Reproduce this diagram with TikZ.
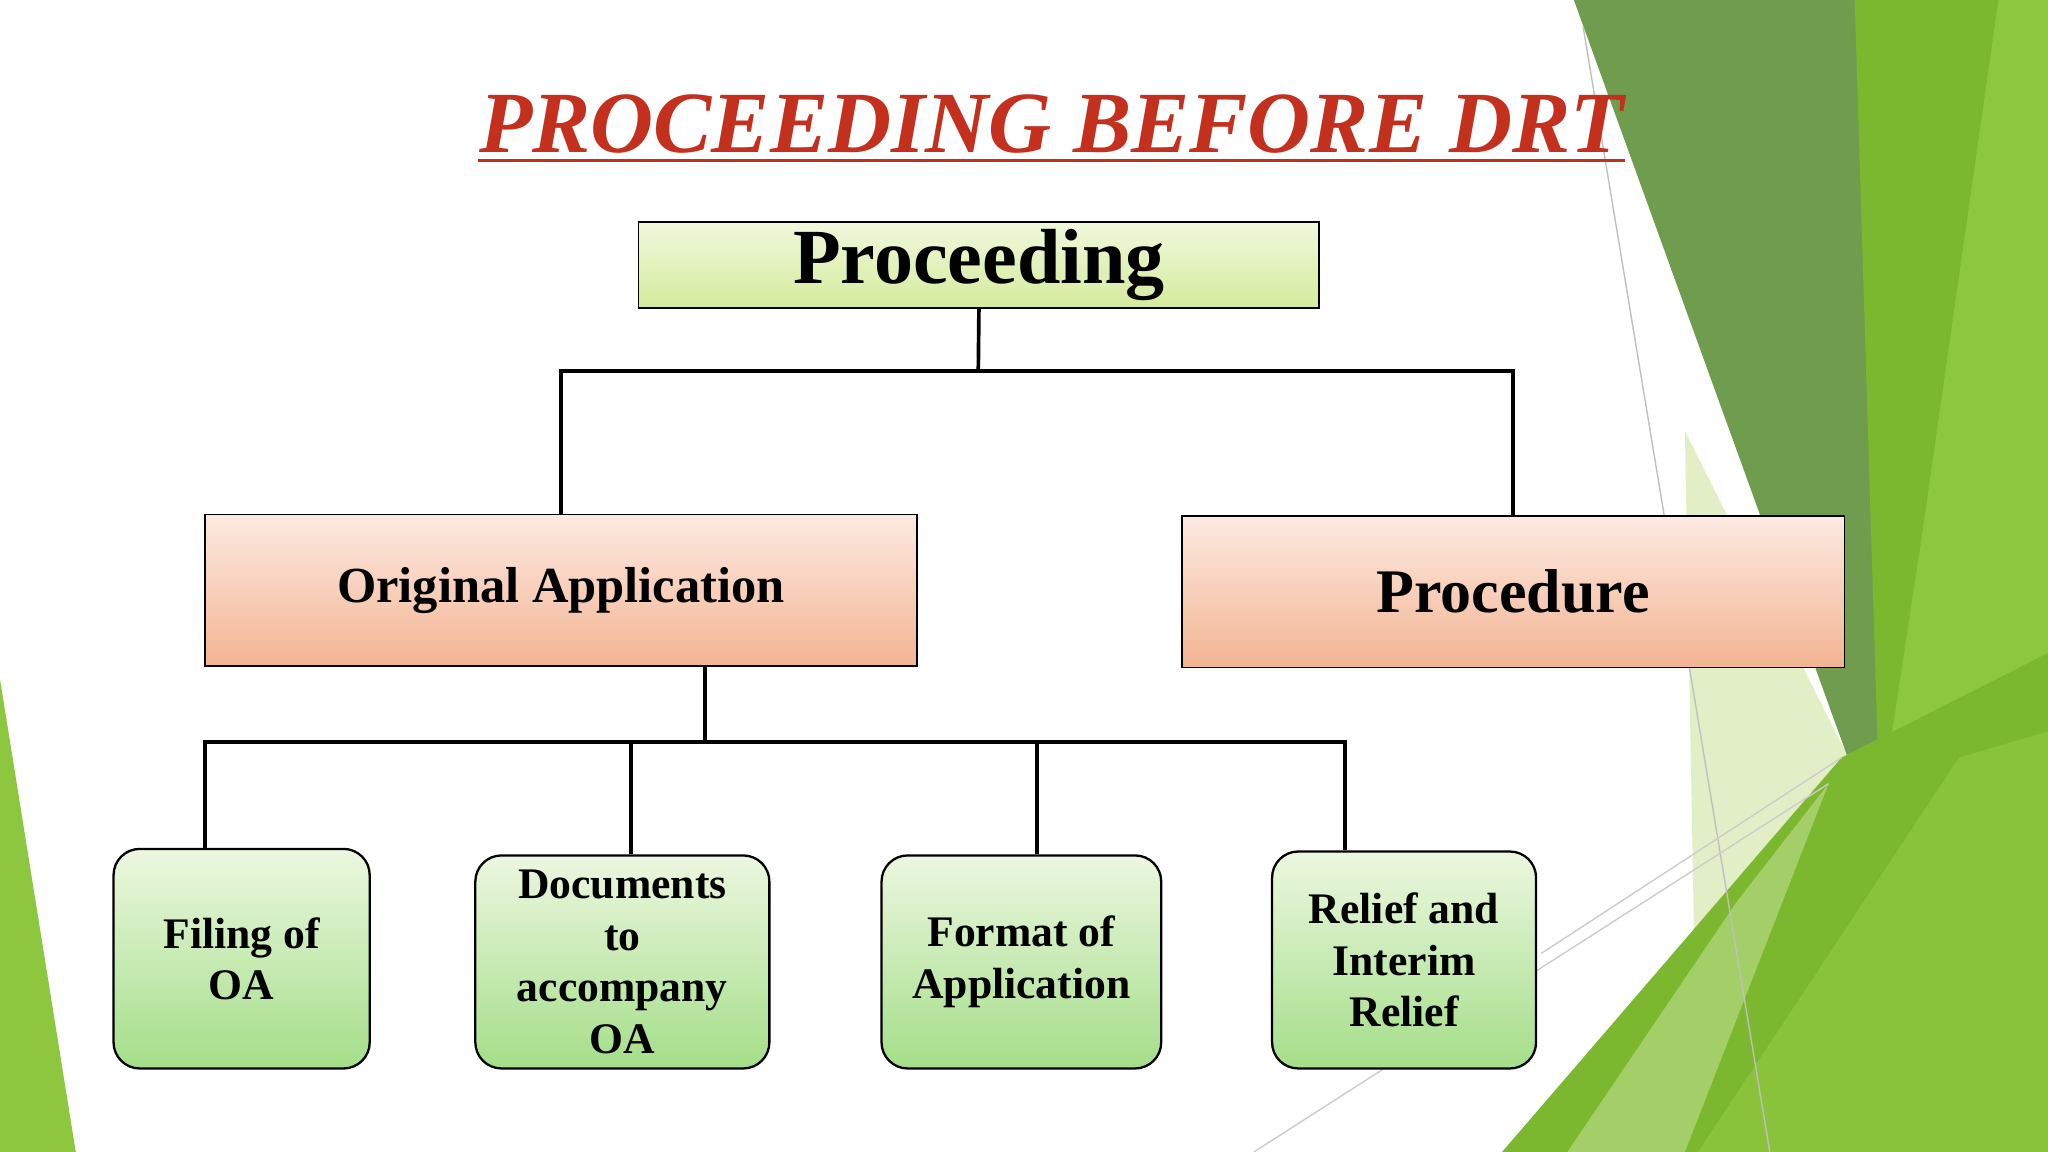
\documentclass[tikz,border=0pt]{standalone}
\usepackage{fontspec}
\setmainfont{Liberation Serif}
\usetikzlibrary{calc}
\definecolor{ttl}{RGB}{196,48,30}
\definecolor{dg}{RGB}{112,156,78}
\definecolor{bg}{RGB}{124,184,47}
\definecolor{lg}{RGB}{141,198,63}
\definecolor{pg}{RGB}{205,228,160}
\tikzset{
 px/.style={x=0.01cm,y=-0.01cm},
 topbox/.style={draw=black,line width=0.4pt,top color={rgb,255:red,240;green,248;blue,220},bottom color={rgb,255:red,212;green,235;blue,156},inner sep=0pt},
 midbox/.style={draw=black,line width=0.4pt,top color={rgb,255:red,252;green,234;blue,226},bottom color={rgb,255:red,243;green,180;blue,146},inner sep=0pt},
 leafbox/.style={draw=black,line width=0.5pt,rounded corners=0.2cm,top color={rgb,255:red,236;green,247;blue,224},bottom color={rgb,255:red,164;green,222;blue,136},inner sep=0pt,align=center,font=\bfseries\fontsize{9.5}{11.2}\selectfont},
 conn/.style={line width=0.8pt,black}
}
\begin{document}
\begin{tikzpicture}[px]
\useasboundingbox (0,0) rectangle (1568,882);
\fill[white] (0,0) rectangle (1568,882);
% background decorations
\fill[pg,opacity=0.6] (1290,330) -- (1450,650) -- (1180,882) -- (1300,882) -- cycle;
\fill[dg] (1205,0) -- (1568,0) -- (1568,250) -- (1440,650) -- cycle;
\fill[bg] (1420,0) -- (1530,0) -- (1470,420) -- (1440,650) -- cycle;
\fill[lg] (1530,0) -- (1568,0) -- (1568,882) -- (1400,882) -- (1470,420) -- cycle;
\fill[bg] (1150,882) -- (1410,580) -- (1568,500) -- (1568,882) -- cycle;
\fill[lg,opacity=0.8] (1300,882) -- (1500,580) -- (1568,560) -- (1568,882) -- cycle;
\fill[pg,opacity=0.5] (1200,882) -- (1330,690) -- (1400,600) -- (1290,882) -- cycle;
\draw[gray!50,line width=0.3pt] (1212,20) -- (1355,882);
\draw[gray!40,line width=0.3pt] (1180,730) -- (1410,580);
\draw[gray!40,line width=0.3pt] (960,882) -- (1400,600);
\fill[lg] (0,520) -- (0,882) -- (58,882) -- cycle;
% title
\node[font=\bfseries\itshape\fontsize{19}{22}\selectfont,text=ttl,inner sep=0pt] (title) at (805,95) {PROCEEDING BEFORE DRT};
\draw[ttl,line width=0.8pt] (title.south west |- 0,123) -- (title.south east |- 0,123);
% boxes
\node[topbox,minimum width=5.21cm,minimum height=0.66cm,font=\bfseries\fontsize{17}{20}\selectfont] (p) at (749.5,203) {Proceeding};
\node[midbox,minimum width=5.45cm,minimum height=1.16cm,font=\bfseries\fontsize{11}{13}\selectfont] (oa) at (429.5,452) {Original Application};
\node[midbox,minimum width=5.07cm,minimum height=1.16cm,font=\bfseries\fontsize{13.5}{16}\selectfont] (pr) at (1158.5,453) {Procedure};
\node[leafbox,minimum width=1.96cm,minimum height=1.68cm] (l1) at (185,734) {Filing of\\OA};
\node[leafbox,minimum width=2.25cm,minimum height=1.63cm] (l2) at (476.5,736.5) {Documents\\to\\accompany\\OA};
\node[leafbox,minimum width=2.14cm,minimum height=1.63cm] (l3) at (782,736.5) {Format of\\Application};
\node[leafbox,minimum width=2.02cm,minimum height=1.66cm] (l4) at (1075,735) {Relief and\\Interim\\Relief};
% connectors
\coordinate (j1) at (749,284);
\coordinate (j2) at (540,568);
\draw[conn] (p.south) -- (j1);
\draw[conn] (oa.north) |- (j1) -| (pr.north);
\draw[conn] (oa.south -| j2) -- (j2);
\draw[conn] (l1.north -| 157,0) |- (j2) -| (l4.north -| 1030,0);
\draw[conn] (483,568) -- (l2.north -| 483,0);
\draw[conn] (794,568) -- (l3.north -| 794,0);
\end{tikzpicture}
\end{document}
